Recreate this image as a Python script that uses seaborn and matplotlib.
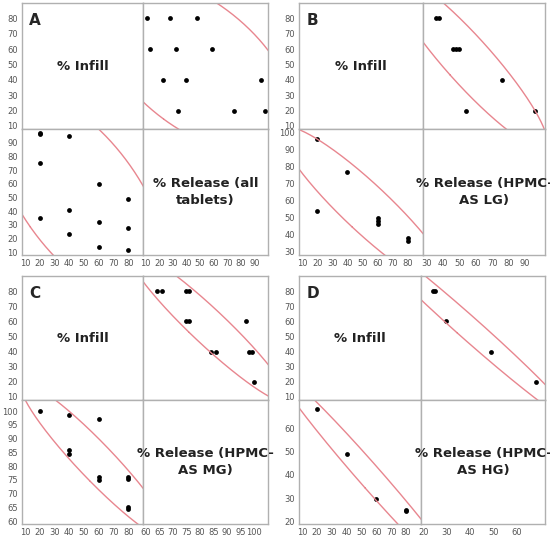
import numpy as np
import matplotlib
matplotlib.use("Agg")
import matplotlib.pyplot as plt
import seaborn as sns

sns.set_style("white")
plt.rcParams['font.family'] = ['DejaVu Sans']

# Panel A
A_low_infill = [20, 20, 20, 20, 40, 40, 40, 60, 60, 60, 80, 80, 80]
A_low_release = [97, 96, 75, 35, 95, 41, 23, 60, 32, 14, 49, 28, 12]
A_up_release = [11, 28, 48, 13, 32, 59, 23, 40, 95, 34, 75, 98]
A_up_infill = [80, 80, 80, 60, 60, 60, 40, 40, 40, 20, 20, 20]
# Panel B
B_low_infill = [20, 20, 40, 60, 60, 60, 80, 80]
B_low_release = [96, 54, 76.5, 50, 48, 46, 38, 36.5]
B_up_release = [36, 38, 46, 48, 50, 76, 54, 96]
B_up_infill = [80, 80, 60, 60, 60, 40, 20, 20]
# Panel C
C_low_infill = [20, 40, 40, 40, 60, 60, 60, 80, 80, 80, 80]
C_low_release = [100, 98.5, 86, 84.5, 97, 76, 75, 76, 75.5, 65, 64.5]
C_up_release = [64, 66, 75, 76, 75, 76, 97, 84, 86, 98, 99, 100]
C_up_infill = [80, 80, 80, 80, 60, 60, 60, 40, 40, 40, 40, 20]
# Panel D
D_low_infill = [20, 40, 60, 80, 80]
D_low_release = [68, 49, 29.5, 25, 24.5]
D_up_release = [24, 25, 29.5, 49, 68]
D_up_infill = [80, 80, 60, 40, 20]

panels = [
    dict(tag="A", label="% Release (all\ntablets)", box=(22, 268, 3, 255), mid=(143, 129),
         lo=(A_low_infill, A_low_release), up=(A_up_release, A_up_infill),
         inf=(8, 90), rel_lo=(8, 100), rel_up=(8, 100), k=1.0,
         rel_ticks_lo=range(10, 100, 10), rel_ticks_up=range(10, 100, 10)),
    dict(tag="B", label="% Release (HPMC-\nAS LG)", box=(299, 545, 3, 255), mid=(423, 129),
         lo=(B_low_infill, B_low_release), up=(B_up_release, B_up_infill),
         inf=(8, 90), rel_lo=(28, 102), rel_up=(28, 102), k=0.6,
         rel_ticks_lo=range(30, 101, 10), rel_ticks_up=range(30, 100, 10)),
    dict(tag="C", label="% Release (HPMC-\nAS MG)", box=(22, 268, 276, 524), mid=(143, 400),
         lo=(C_low_infill, C_low_release), up=(C_up_release, C_up_infill),
         inf=(8, 90), rel_lo=(59, 104), rel_up=(59, 105), k=0.5,
         rel_ticks_lo=range(60, 101, 5), rel_ticks_up=range(60, 101, 5)),
    dict(tag="D", label="% Release (HPMC-\nAS HG)", box=(299, 545, 276, 524), mid=(421, 400),
         lo=(D_low_infill, D_low_release), up=(D_up_release, D_up_infill),
         inf=(8, 90), rel_lo=(19, 72), rel_up=(19, 72), k=0.7,
         rel_ticks_lo=range(20, 70, 10), rel_ticks_up=range(20, 70, 10)),
]
inf_ticks_y = list(range(10, 90, 10))
inf_ticks_x = list(range(10, 90, 10))

W, H = 550, 538
fig = plt.figure(figsize=(5.5, 5.38), dpi=100)
grey = "#b0b0b0"
tickc = "#555555"

def rect(x0, x1, y0, y1):
    return [x0 / W, 1 - y1 / H, (x1 - x0) / W, (y1 - y0) / H]

def ellipse(ax, x, y, k):
    x = np.asarray(x, float); y = np.asarray(y, float)
    cov = np.cov(x, y)
    vals, vecs = np.linalg.eigh(cov)
    t = np.linspace(0, 2 * np.pi, 400)
    r = np.sqrt(5.991 * vals)
    r[0] *= k
    pts = vecs @ np.vstack([r[0] * np.cos(t), r[1] * np.sin(t)])
    ax.plot(pts[0] + x.mean(), pts[1] + y.mean(), color="#e8868f", lw=1.0)

def style(ax):
    for s in ax.spines.values():
        s.set_color(grey); s.set_linewidth(1)
    ax.tick_params(labelsize=6, colors=tickc, length=2, width=0.6, color=grey, pad=1)

for p in panels:
    x0, x1, y0, y1 = p["box"]; mx, my = p["mid"]
    tl = fig.add_axes(rect(x0, mx, y0, my))
    tr = fig.add_axes(rect(mx, x1, y0, my))
    bl = fig.add_axes(rect(x0, mx, my, y1))
    br = fig.add_axes(rect(mx, x1, my, y1))
    for ax in (tl, tr, bl, br):
        style(ax)
    tl.set_xlim(0, 1); tl.set_ylim(*p["inf"])
    tl.set_yticks(inf_ticks_y); tl.set_xticks([])
    tl.text(0.5, 0.5, "% Infill", transform=tl.transAxes, ha="center", va="center",
            fontsize=9.5, fontweight="bold", color="#222222")
    tl.text(0.06, 0.92, p["tag"], transform=tl.transAxes, ha="left", va="top",
            fontsize=11, fontweight="bold")
    sns.scatterplot(x=p["up"][0], y=p["up"][1], ax=tr, color="black", s=12, edgecolor="black", linewidth=0)
    ellipse(tr, *p["up"], p["k"])
    tr.set_xlim(*p["rel_up"]); tr.set_ylim(*p["inf"])
    tr.set_xticks([]); tr.set_yticks([])
    sns.scatterplot(x=p["lo"][0], y=p["lo"][1], ax=bl, color="black", s=12, edgecolor="black", linewidth=0)
    ellipse(bl, *p["lo"], p["k"])
    bl.set_xlim(*p["inf"]); bl.set_ylim(*p["rel_lo"])
    bl.set_xticks(inf_ticks_x)
    bl.set_yticks(list(p["rel_ticks_lo"]))
    br.set_xlim(*p["rel_up"]); br.set_ylim(0, 1)
    br.set_xticks(list(p["rel_ticks_up"])); br.set_yticks([])
    br.text(0.5, 0.5, p["label"], transform=br.transAxes, ha="center", va="center",
            fontsize=9.5, fontweight="bold", color="#222222", linespacing=1.4)

fig.savefig("out.png", dpi=100)
